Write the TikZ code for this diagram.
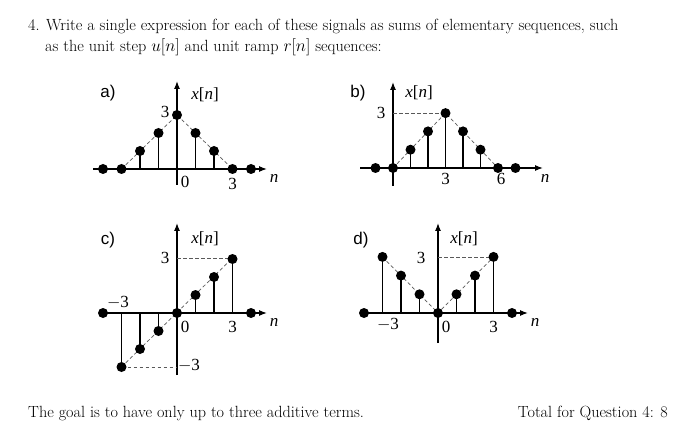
\documentclass[tikz,border=0pt]{standalone}
\usepackage{fontspec}
\usetikzlibrary{arrows.meta}
\newfontfamily\sansf{Liberation Sans}
\newfontfamily\tmsf{Liberation Serif}
\newcommand{\xn}{{\itshape x}[{\itshape n}]}
\begin{document}
\begin{tikzpicture}[x=1pt,y=-1pt,
  ax/.style={line width=1.2pt,-{Latex[length=8pt,width=6pt]}},
  stem/.style={line width=1.8pt},
  dot/.style={circle,fill=black,inner sep=0pt,minimum size=10pt},
  dsh/.style={line width=0.7pt,gray!70!black,dash pattern=on 3.5pt off 2.5pt},
  lab/.style={font=\tmsf\fontsize{17}{17}\selectfont,inner sep=0pt},
  pl/.style={font=\sansf\fontsize{17}{17}\selectfont,inner sep=0pt},
  txt/.style={font=\fontsize{16.2}{20}\selectfont,inner sep=0pt,anchor=base west}]
\useasboundingbox (0,0) rectangle (700,435);
% text
\node[txt] (t1) at (28,31) {4. Write a single expression for each of these signals as sums of elementary sequences, such};
\node[txt] (t2) at (45,52) {as the unit step $u[n]$ and unit ramp $r[n]$ sequences:};
\node[txt] (t3) at (28,417) {The goal is to have only up to three additive terms.};
\node[txt,anchor=base east] (t4) at (668,417) {Total for Question 4: 8};
% ---- a)
\begin{scope}[shift={(177,169)}]
 \draw[ax] (-84,0) -- (90,0);
 \draw[ax] (0,16) -- (0,-88);
 \draw[dsh] (-55.5,0) -- (0,-54) -- (55.5,0);
 \foreach \n/\v in {-4/0,-3/0,-2/1,-1/2,0/3,1/2,2/1,3/0,4/0}{
   \draw[stem] (\n*18.5,0) -- (\n*18.5,-\v*18);
   \node[dot] at (\n*18.5,-\v*18) {};}
 \node[pl] (la) at (-69,-76) {a)};
 \node[lab] at (-12,-57) {3};
 \node[lab] at (8,13) {0};
 \node[lab] at (55.5,15) {3};
 \node[lab] at (97,9) {\itshape n};
 \node[lab] at (28,-74) {\xn};
\end{scope}
% ---- b)
\begin{scope}[shift={(393,168)}]
 \draw[ax] (-33,0) -- (150,0);
 \draw[ax] (0,18) -- (0,-86);
 \draw[dsh] (0,-55) -- (52.5,-55);
 \draw[dsh] (0,0) -- (52.5,-55) -- (105,0);
 \foreach \n/\v in {-1/0,0/0,1/1,2/2,3/3,4/2,5/1,6/0,7/0}{
   \draw[stem] (\n*17.5,0) -- (\n*17.5,-\v*18.3);
   \node[dot] at (\n*17.5,-\v*18.3) {};}
 \node[pl] (lb) at (-35,-75) {b)};
 \node[lab] at (-12,-55) {3};
 \node[lab] at (52.5,11) {3};
 \node[lab] at (108,11) {6};
 \node[lab] at (152,10) {\itshape n};
 \node[lab] at (26,-75) {\xn};
\end{scope}
% ---- c)
\begin{scope}[shift={(177,313)}]
 \draw[ax] (-74,0) -- (90,0);
 \draw[ax] (0,62) -- (0,-90);
 \draw[dsh] (0,-55) -- (55.5,-55);
 \draw[dsh] (-55.5,54) -- (0,54);
 \draw[dsh] (-55.5,54) -- (55.5,-55);
 \foreach \n/\v in {-4/0,-3/-3,-2/-2,-1/-1,0/0,1/1,2/2,3/3,4/0}{
   \draw[stem] (\n*18.5,0) -- (\n*18.5,-\v*18);
   \node[dot] at (\n*18.5,-\v*18) {};}
 \node[pl] (lc) at (-69,-73) {c)};
 \node[lab] at (-12,-55) {3};
 \node[lab] at (-59,-10) {$-$3};
 \node[lab] at (8,14) {0};
 \node[lab] at (55.5,14) {3};
 \node[lab] at (97,9) {\itshape n};
 \node[lab] at (12,53) {$-$3};
 \node[lab] at (28,-74) {\xn};
\end{scope}
% ---- d)
\begin{scope}[shift={(438,313)}]
 \draw[ax] (-76,0) -- (90,0);
 \draw[ax] (0,30) -- (0,-90);
 \draw[dsh] (0,-56) -- (55.5,-56);
 \draw[dsh] (-55.5,-56) -- (0,0) -- (55.5,-56);
 \foreach \n/\v in {-4/0,-3/3,-2/2,-1/1,0/0,1/1,2/2,3/3,4/0}{
   \draw[stem] (\n*18.5,0) -- (\n*18.5,-\v*18.7);
   \node[dot] at (\n*18.5,-\v*18.7) {};}
 \node[pl] (ld) at (-77,-73) {d)};
 \node[lab] at (-17,-55) {3};
 \node[lab] at (-50,12) {$-$3};
 \node[lab] at (8,14) {0};
 \node[lab] at (55.5,14) {3};
 \node[lab] at (97,9) {\itshape n};
 \node[lab] at (26,-74) {\xn};
\end{scope}
\end{tikzpicture}
\end{document}
